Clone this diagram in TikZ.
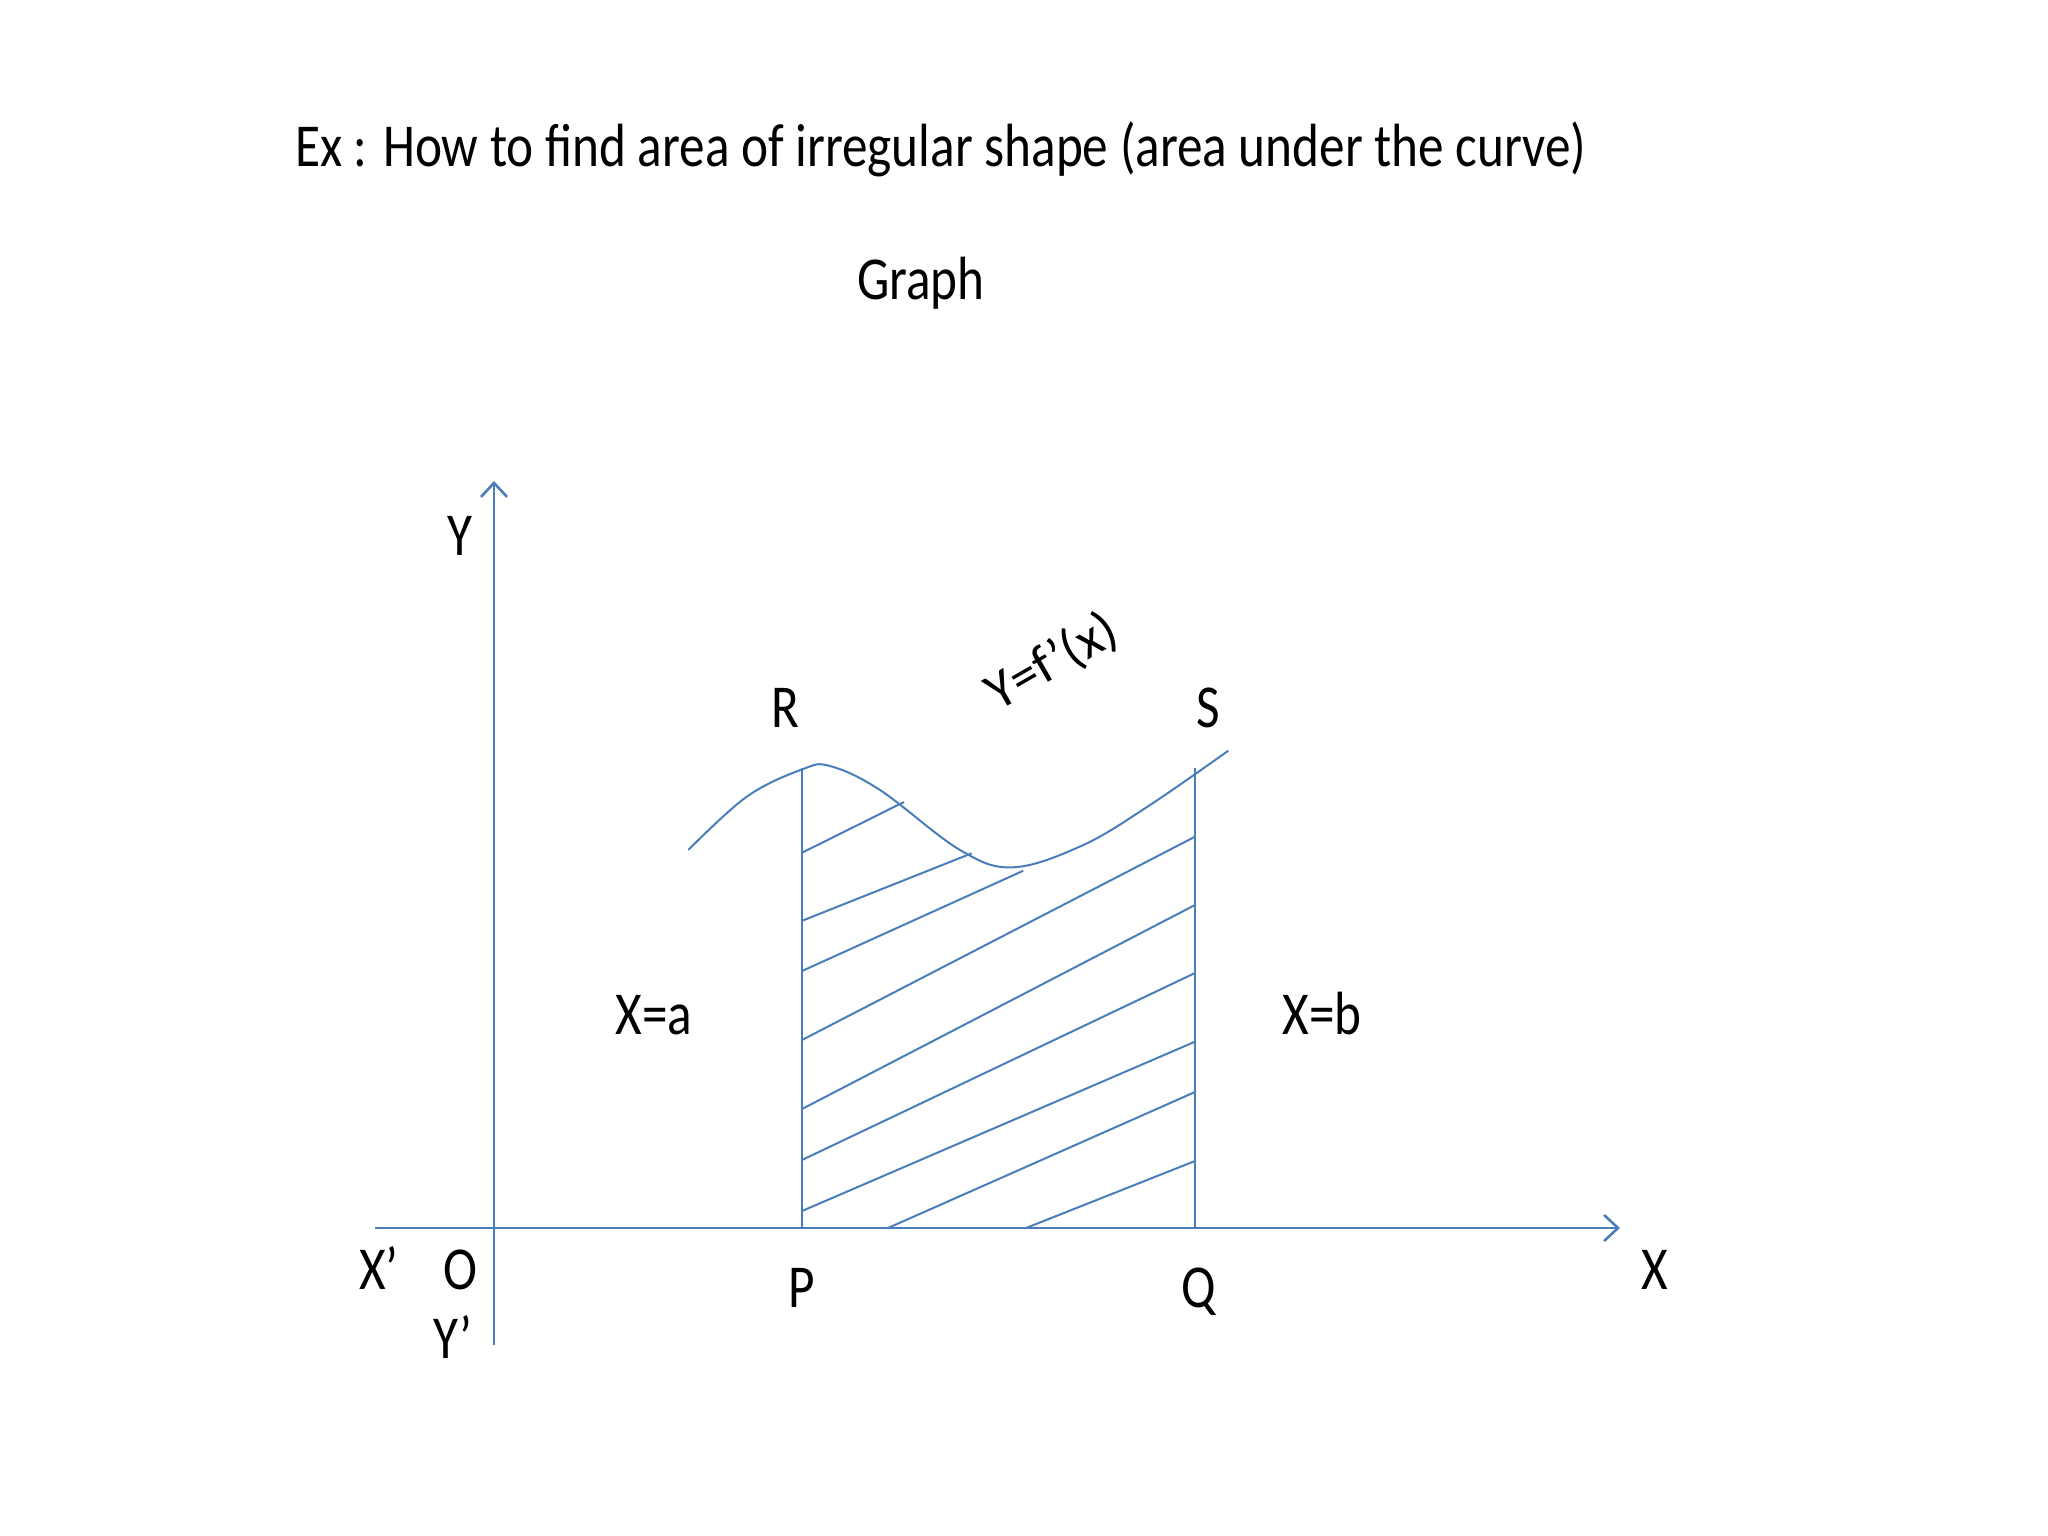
\documentclass[tikz,border=0pt]{standalone}
\usepackage{fontspec}
\setmainfont{Carlito}[FakeStretch=0.84]
\newfontfamily\plainfont{Carlito}
\usetikzlibrary{arrows.meta}
\definecolor{lineblue}{RGB}{74,126,187}
\begin{document}
\begin{tikzpicture}[x=1pt,y=-1pt,
  lbl/.style={font=\fontsize{61}{70}\selectfont, inner sep=0pt, anchor=base},
  axisline/.style={draw=lineblue, line width=2.6pt},
  thinline/.style={draw=lineblue, line width=2pt},
  tip/.style={-{Straight Barb[length=14pt,width=26pt]}}]
\fill[white] (0,0) rectangle (2048,1536);
\useasboundingbox (0,0) rectangle (2048,1536);
% texts
\node[lbl, anchor=base west] (title) at (295,167) {Ex : How to find area of irregular shape (area under the curve)};
\node[lbl] (graph) at (921,299) {Graph};
% axes
\coordinate (xs) at (375,1228);
\coordinate (xe) at (1620,1228);
\coordinate (ys) at (494,1345);
\coordinate (ye) at (494,481);
\draw[axisline, tip] (xs) -- (xe);
\draw[axisline, tip] (ys) -- (ye);
% curve
\draw[thinline] plot[smooth, tension=0.6] coordinates {(688.3,850) (746.7,796.7) (802.3,769.3) (830,766) (880,790) (960,850) (1013.3,867.3) (1083.3,845) (1150,805) (1228.3,750.7)};
% verticals
\coordinate (R0) at (802,768);
\coordinate (S0) at (1195,768);
\coordinate (P0) at (802,1228);
\coordinate (Q0) at (1195,1228);
\draw[thinline] (R0) -- (P0);
\draw[thinline] (S0) -- (Q0);
% hatching
\coordinate (h1a) at (802,852.7); \coordinate (h1b) at (904,802);
\coordinate (h2a) at (802,920.8); \coordinate (h2b) at (971.7,853.3);
\coordinate (h3a) at (802,971); \coordinate (h3b) at (1023.3,870.7);
\coordinate (h4a) at (802,1040); \coordinate (h4b) at (1195,836.7);
\coordinate (h5a) at (802,1109); \coordinate (h5b) at (1195,905);
\coordinate (h6a) at (802,1160); \coordinate (h6b) at (1195,973);
\coordinate (h7a) at (802,1211); \coordinate (h7b) at (1195,1041.7);
\coordinate (h8a) at (888,1228); \coordinate (h8b) at (1195,1092);
\coordinate (h9a) at (1026,1228); \coordinate (h9b) at (1195,1161);
\foreach \i in {1,...,9} {\draw[thinline] (h\i a) -- (h\i b);}
% labels
\node[lbl] (ly) at (460,555) {Y};
\node[lbl] (lxp) at (379,1289) {X’};
\node[lbl] (lo) at (460,1289) {O};
\node[lbl] (lyp) at (453,1358.5) {Y’};
\node[lbl] (lx) at (1655,1289) {X};
\node[lbl] (lp) at (802,1307.5) {P};
\node[lbl] (lq) at (1199,1307.5) {Q};
\node[lbl] (lr) at (785,727.5) {R};
\node[lbl] (ls) at (1208,727.5) {S};
\node[lbl] (lxa) at (654,1034.5) {X=a};
\node[lbl] (lxb) at (1322,1034.5) {X=b};
\node[inner sep=0pt, font=\plainfont\fontsize{54}{62}\selectfont, anchor=center, rotate=30] (lf) at (1052,662) {Y=f’(x)};
\end{tikzpicture}
\end{document}
